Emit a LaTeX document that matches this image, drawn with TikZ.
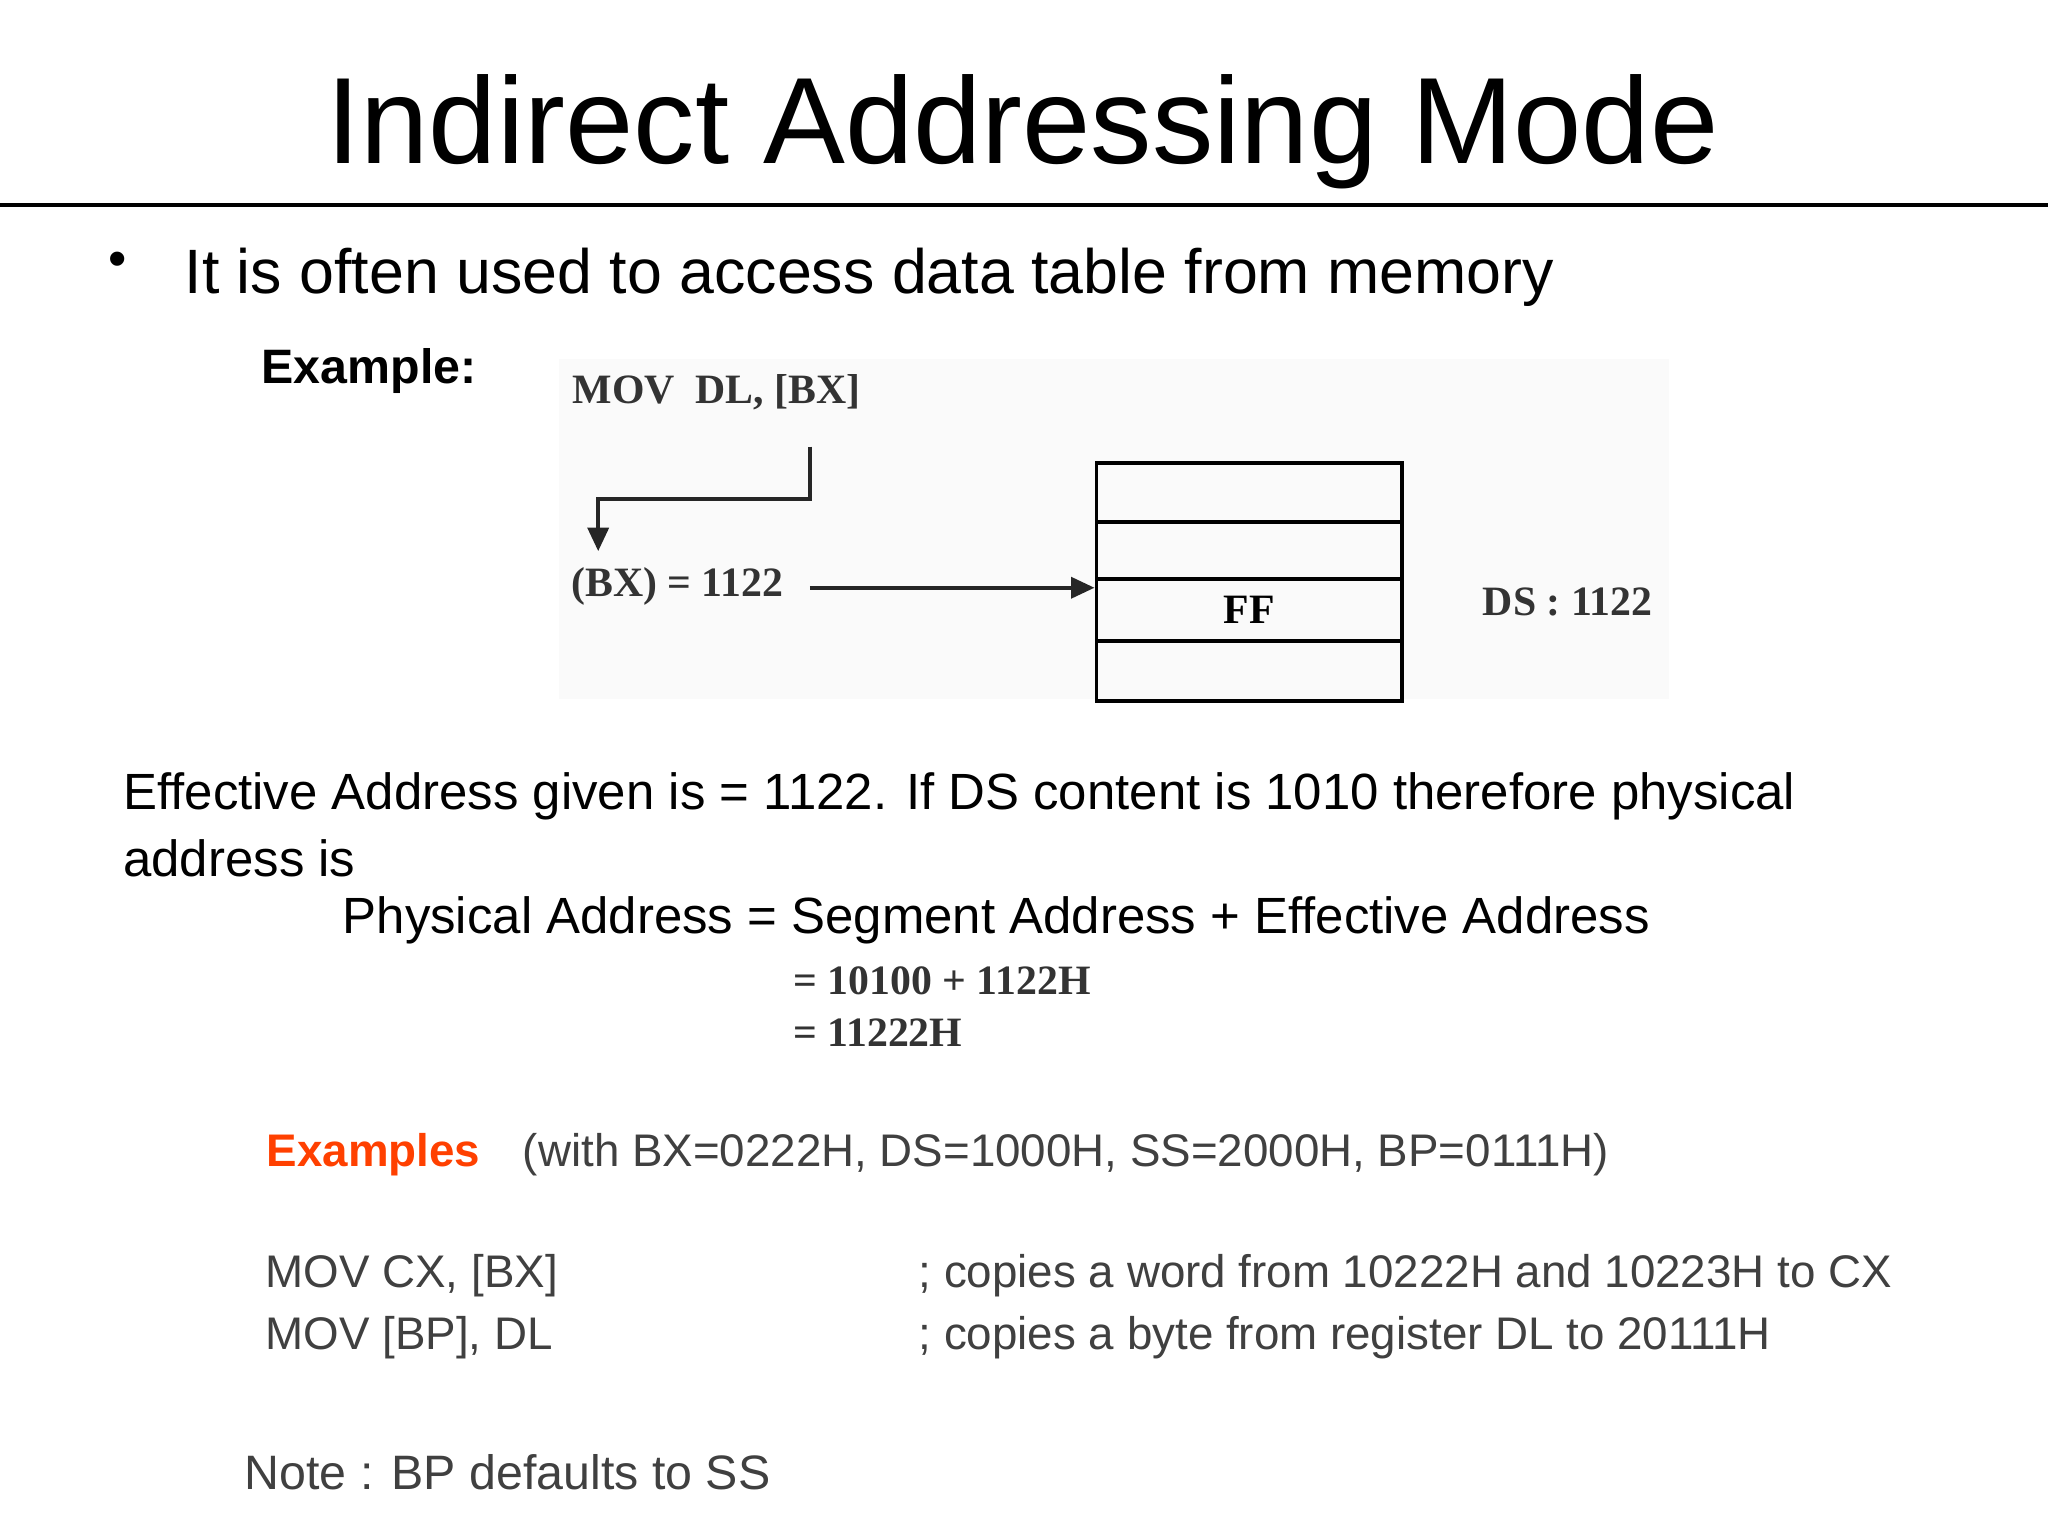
\documentclass[tikz,border=0pt]{standalone}
\usepackage{fontspec}
\setmainfont{Liberation Sans}
\newfontfamily\serifb{Liberation Serif}
\usetikzlibrary{arrows.meta}
\begin{document}
\begin{tikzpicture}[x=0.5pt,y=-0.5pt,
  txt/.style={anchor=west,inner sep=0pt,font=\fontsize{19.5}{22}\selectfont},
  ex/.style={anchor=west,inner sep=0pt,text=black!75,font=\fontsize{17.5}{20}\selectfont},
  sr/.style={anchor=west,inner sep=0pt,font=\serifb\bfseries\fontsize{16}{19}\selectfont,text=black!80},
  wire/.style={line width=1.5pt,black!85}]
\useasboundingbox (0,0) rectangle (1568,1176);
\fill[white] (0,0) rectangle (1568,1176);
\node[inner sep=0pt,font=\fontsize{47}{52}\selectfont] (title) at (783,101) {Indirect Addressing Mode};
\draw[line width=1.5pt] (0,157) -- (1568,157);
\node[inner sep=0pt,font=\fontsize{20}{22}\selectfont] (bul) at (90,202) {•};
\node[txt,font=\fontsize{24}{28}\selectfont] (b1) at (141,212) {It is often used to access data table from memory};
\node[txt,font=\bfseries\fontsize{18.5}{21}\selectfont] (exl) at (200,284) {Example:};
\fill[black!2] (428,275) rectangle (1278,535);
\node[sr] (mov) at (438,300) {MOV\ \ DL, [BX]};
\coordinate (c1) at (620,342);
\coordinate (c2) at (620,382);
\coordinate (c3) at (458,382);
\node[sr] (bx) at (437,449) {(BX) = 1122};
\draw[wire,-{Triangle[length=9pt,width=8pt]}] (c1) -- (c2) -- (c3) -- (458,422);
\node[draw,line width=1.5pt,minimum width=117pt,minimum height=22.5pt,inner sep=0pt,anchor=north west] (m1) at (838,353) {};
\node[draw,line width=1.5pt,minimum width=117pt,minimum height=22pt,inner sep=0pt,anchor=north west] (m2) at (838,398) {};
\node[draw,line width=1.5pt,minimum width=117pt,minimum height=23.5pt,inner sep=0pt,anchor=north west,font=\serifb\bfseries\fontsize{16}{19}\selectfont] (m3) at (838,442) {FF};
\node[draw,line width=1.5pt,minimum width=117pt,minimum height=23pt,inner sep=0pt,anchor=north west] (m4) at (838,489) {};
\draw[wire,-{Triangle[length=9pt,width=8pt]}] (bx.east)++(20,1) coordinate (bxe) -- (m3.west |- bxe);
\node[sr] (ds) at (1135,461) {DS : 1122};
\node[txt] (e1) at (94,610) {Effective Address given is = 1122. If DS content is 1010 therefore physical};
\node[txt] (e2) at (94,657) {address is};
\node[txt] (pa) at (262,705) {Physical Address = Segment Address + Effective Address};
\node[sr] (p1) at (607,751) {= 10100 + 1122H};
\node[sr] (p2) at (607,791) {= 11222H};
\node[ex,text=orange!50!red,font=\bfseries\fontsize{17.5}{20}\selectfont] (exs) at (204,884) {Examples};
\node[ex] (w) at (400,884) {(with BX=0222H, DS=1000H, SS=2000H, BP=0111H)};
\node[ex] (i1) at (203,977) {MOV CX, [BX]};
\node[ex] (c1t) at (703,977) {; copies a word from 10222H and 10223H to CX};
\node[ex] (i2) at (203,1024) {MOV [BP], DL};
\node[ex] (c2t) at (703,1024) {; copies a byte from register DL to 20111H};
\node[ex,font=\fontsize{18.5}{21}\selectfont] (note) at (187,1127) {Note : BP defaults to SS};
\end{tikzpicture}
\end{document}
